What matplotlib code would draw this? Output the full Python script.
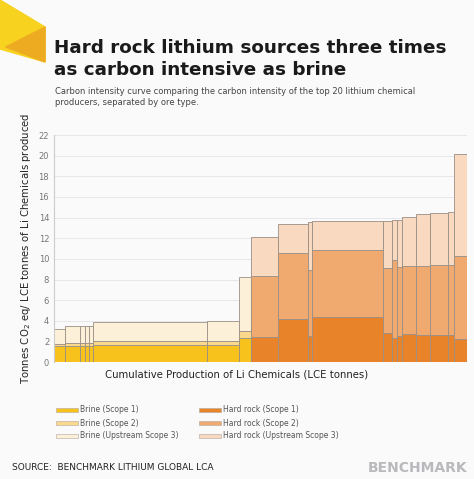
import matplotlib
matplotlib.use("Agg")
import matplotlib.pyplot as plt
from matplotlib.patches import Polygon, Rectangle
import numpy as np

ore = ["Brine"]*8 + ["Hard rock"]*12
widths = [34,44,14,13,12,340,98,36,81,90,12,211,27,17,15,41,40,54,18,40]
scope1 = [1.6,1.55,1.55,1.55,1.55,1.65,1.65,2.3, 2.4,4.2,2.5,4.4,2.8,2.3,2.5,2.7,2.6,2.65,2.6,2.2]
scope12 = [1.75,1.9,1.9,1.9,1.9,2.0,2.0,3.0, 8.3,10.6,8.9,10.9,9.1,9.9,9.2,9.3,9.35,9.45,9.45,10.3]
total = [3.2,3.5,3.5,3.5,3.5,3.9,4.0,8.2, 12.1,13.4,13.6,13.7,13.7,13.8,13.8,14.1,14.35,14.45,14.55,20.2]
yticks = list(range(0, 23, 2))

colors = {"Brine": ["#F8C21C", "#FAD98C", "#FDF0D8"],
          "Hard rock": ["#E8832A", "#F0A96E", "#F9DAC0"]}
bg = "#FAFAFB"
fig = plt.figure(figsize=(4.74, 4.79), dpi=100, facecolor=bg)
ax = fig.add_axes([0.114, 0.244, 0.871, 0.474], facecolor=bg)

left = np.concatenate([[0], np.cumsum(widths)[:-1]])
for i in range(len(widths)):
    c = colors[ore[i]]
    b = [0, scope1[i], scope12[i]]
    h = [scope1[i], scope12[i]-scope1[i], total[i]-scope12[i]]
    for k in range(3):
        ax.bar(left[i], h[k], width=widths[i], bottom=b[k], align="edge",
               color=c[k], edgecolor="#9a8f85", linewidth=0.6)

ax.set_xlim(0, sum(widths))
ax.set_ylim(0, 22)
ax.set_yticks(yticks)
ax.tick_params(axis="y", labelsize=6, colors="#777777", length=0)
ax.set_xticks([])
ax.grid(axis="y", color="#e4e4e8", linewidth=0.6)
ax.set_axisbelow(True)
for s in ["top", "right", "bottom"]:
    ax.spines[s].set_visible(False)
ax.spines["left"].set_color("#cccccc")
ax.set_ylabel("Tonnes CO$_2$ eq/ LCE tonnes of Li Chemicals produced", fontsize=7.3, color="#222222", labelpad=4)
fig.text(0.5, 0.212, "Cumulative Production of Li Chemicals (LCE tonnes)", fontsize=7.3, ha="center", color="#222222")

# header
fig.text(0.113, 0.918, "Hard rock lithium sources three times\nas carbon intensive as brine", fontsize=13.2,
         fontweight="semibold", color="#1a1a1a", va="top", linespacing=1.25)
fig.text(0.115, 0.818, "Carbon intensity curve comparing the carbon intensity of the top 20 lithium chemical\nproducers, separated by ore type.",
         fontsize=6, color="#444444", va="top", linespacing=1.3)
fig.patches.append(Polygon([[0, 1.0], [0.095, 1-27/479], [0.095, 1-62/479], [0, 1-49/479]],
                           closed=True, transform=fig.transFigure, color="#F7D21E"))
fig.patches.append(Polygon([[0.012, 1-47/479], [0.095, 1-27/479], [0.095, 1-62/479]],
                           closed=True, transform=fig.transFigure, color="#EDAB22"))

# legend
labels = [["Brine (Scope 1)", "Brine (Scope 2)", "Brine (Upstream Scope 3)"],
          ["Hard rock (Scope 1)", "Hard rock (Scope 2)", "Hard rock (Upstream Scope 3)"]]
for j, o in enumerate(["Brine", "Hard rock"]):
    x0 = 0.118 + j*0.302
    for k in range(3):
        y = 1 - (410 + k*13)/479
        fig.patches.append(Rectangle((x0, y-0.004), 0.046, 0.008, transform=fig.transFigure,
                                     facecolor=colors[o][k], edgecolor="#b0a89f", linewidth=0.4))
        fig.text(x0+0.05, y, labels[j][k], fontsize=5.5, color="#555555", va="center")

fig.text(0.025, 1-468/479, "SOURCE:  BENCHMARK LITHIUM GLOBAL LCA", fontsize=6.5, color="#222222", va="center")
fig.text(0.985, 1-468/479, "BENCHMARK", fontsize=10, color="#b9b9bd", fontweight="bold", va="center", ha="right")
fig.savefig("out.png", dpi=100, facecolor=bg)
